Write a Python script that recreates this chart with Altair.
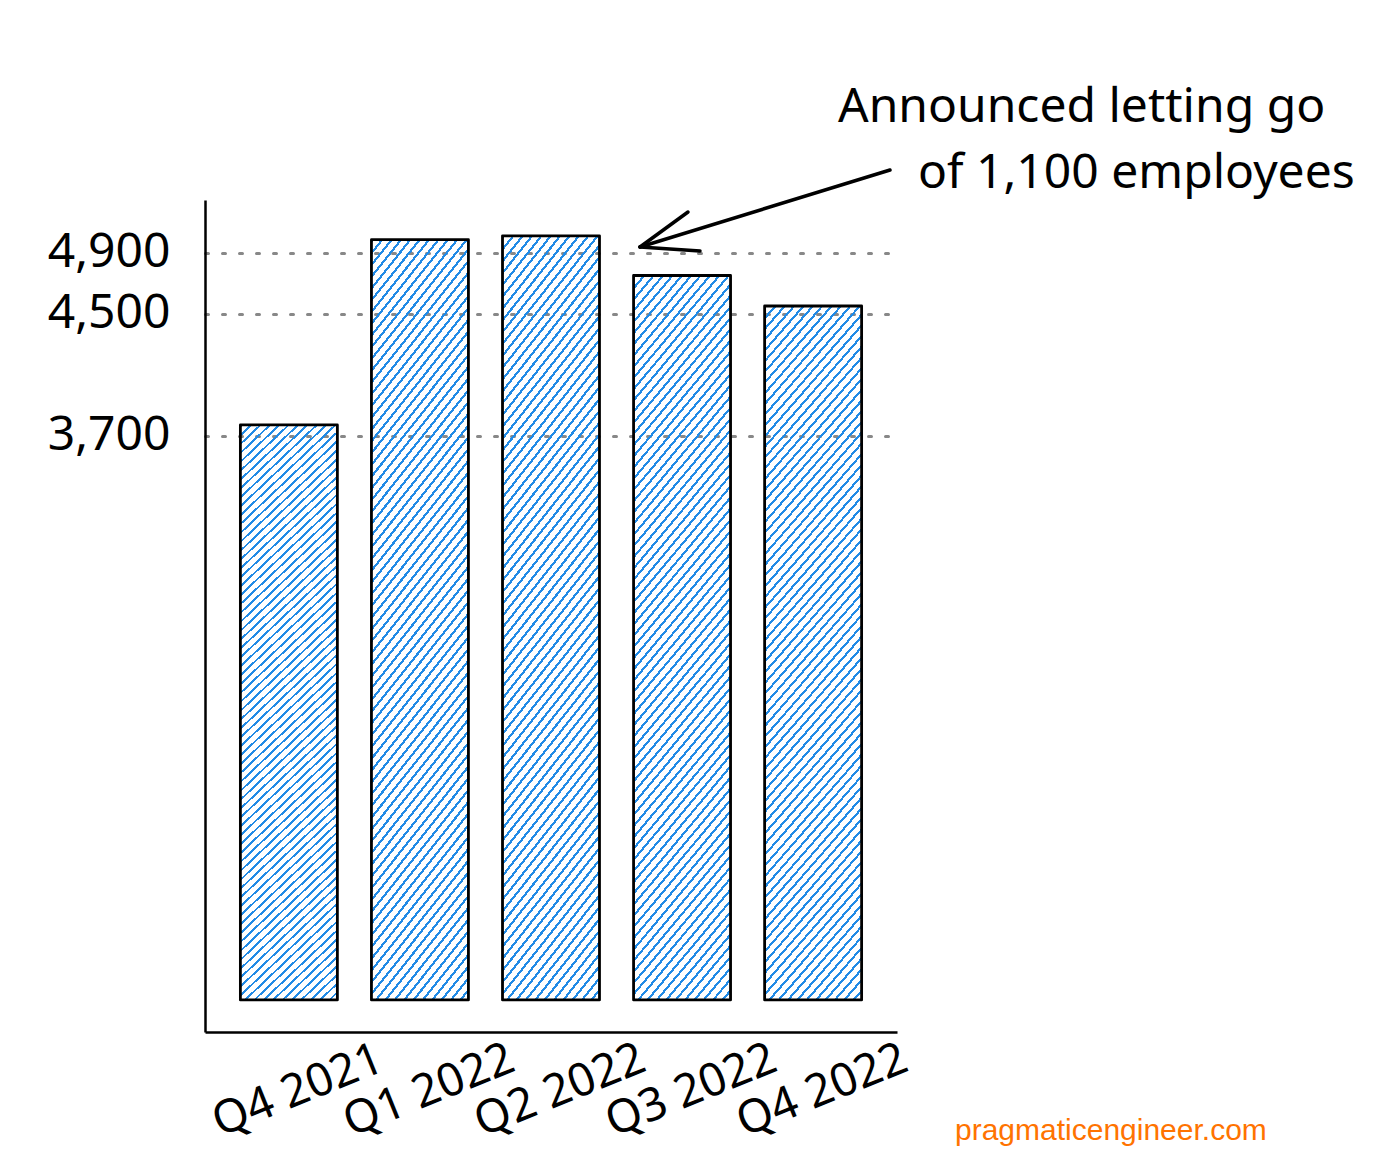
import altair as alt
import pandas as pd

# ---- data ----
quarters = ["Q4 2021", "Q1 2022", "Q2 2022", "Q3 2022", "Q4 2022"]
headcount = [3770, 4985, 5010, 4750, 4550]
tick_values = [3700, 4500, 4900]
annotation_lines = ["Announced letting go", "of 1,100 employees"]
watermark = ["pragmaticengineer.com"]

FONT = "Noto Sans"
BLUE = "#228be6"
CLEAR = "rgba(34,139,230,0)"

df = pd.DataFrame({"quarter": quarters, "headcount": headcount})

# hatch-like fill: thin diagonal stripes via a gradient
N = 75
w = 0.3
stops = []
for i in range(N):
    a = i / N
    b = (i + w) / N
    stops += [
        alt.GradientStop(color=CLEAR, offset=a),
        alt.GradientStop(color=BLUE, offset=a),
        alt.GradientStop(color=BLUE, offset=b),
        alt.GradientStop(color=CLEAR, offset=b),
    ]
stops.append(alt.GradientStop(color=CLEAR, offset=1))
hatch = alt.LinearGradient(gradient="linear", stops=stops, x1=0, y1=0, x2=0.181, y2=1.131)

bars = alt.Chart(df).mark_bar(
    fill=hatch, stroke="black", strokeWidth=2.8, strokeJoin="round"
).encode(
    x=alt.X(
        "quarter:N",
        sort=quarters,
        scale=alt.Scale(paddingInner=0.26, paddingOuter=0.27),
        axis=alt.Axis(
            title=None,
            labelAngle=-22,
            labelAlign="right",
            labelBaseline="top",
            labelOffset=84,
            labelPadding=4,
            labelFontSize=46,
            labelFont=FONT,
            labelColor="black",
            labelLimit=0,
            labelOverlap=False,
            ticks=False,
            domainColor="black",
            domainWidth=2.5,
        ),
    ),
    y=alt.Y(
        "headcount:Q",
        scale=alt.Scale(domain=[-210, 5245], nice=False, zero=False),
        axis=alt.Axis(
            title=None,
            values=tick_values,
            format=",.0f",
            labelFontSize=48,
            labelFont=FONT,
            labelColor="black",
            labelPadding=35,
            labelOverlap=False,
            labelLimit=0,
            ticks=False,
            domainColor="black",
            domainWidth=2.5,
            grid=True,
            gridColor="#888888",
            gridWidth=3,
            gridDash=[3, 14],
            gridCap="round",
        ),
    ),
    y2=alt.datum(0),
)

one = pd.DataFrame({"k": [0]})

arrow_shaft = alt.Chart(one).mark_rule(color="black", strokeWidth=3.5, strokeCap="round").encode(
    x=alt.value(685), y=alt.value(-30), x2=alt.value(435), y2=alt.value(47)
)
arrow_head1 = alt.Chart(one).mark_rule(color="black", strokeWidth=3.5, strokeCap="round").encode(
    x=alt.value(435), y=alt.value(47), x2=alt.value(483), y2=alt.value(12)
)
arrow_head2 = alt.Chart(one).mark_rule(color="black", strokeWidth=3.5, strokeCap="round").encode(
    x=alt.value(435), y=alt.value(47), x2=alt.value(495), y2=alt.value(51)
)

line1 = alt.Chart(pd.DataFrame({"t": [annotation_lines[0]]})).mark_text(
    font=FONT, fontSize=48, align="left", baseline="alphabetic", color="black"
).encode(text="t:N", x=alt.value(633), y=alt.value(-78))

line2 = alt.Chart(pd.DataFrame({"t": [annotation_lines[1]]})).mark_text(
    font=FONT, fontSize=48, align="left", baseline="alphabetic", color="black"
).encode(text="t:N", x=alt.value(713), y=alt.value(-12))

mark_wm = alt.Chart(pd.DataFrame({"t": watermark})).mark_text(
    font="Liberation Sans", fontSize=30, align="left", baseline="alphabetic", color="#ff7300"
).encode(text="t:N", x=alt.value(750), y=alt.value(940))

chart = alt.layer(
    bars, arrow_shaft, arrow_head1, arrow_head2, line1, line2, mark_wm
).properties(
    width=692,
    height=832,
    autosize=alt.AutoSizeParams(type="none"),
    padding={"left": 197, "top": 192, "right": 487, "bottom": 118},
    background="white",
).configure_view(stroke=None)

chart.save("out.html", embed_options={"renderer": "svg", "actions": False})
